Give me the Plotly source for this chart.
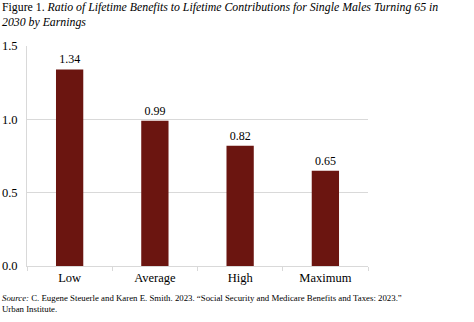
import plotly.graph_objects as go

categories = ["Low", "Average", "High", "Maximum"]
ratios = [1.34, 0.99, 0.82, 0.65]
y_ticks = [0.0, 0.5, 1.0, 1.5]

title_text = ("Figure 1. <i>Ratio of Lifetime Benefits to Lifetime Contributions for Single Males Turning 65 in"
              "<br>2030 by Earnings</i>")
source_text = ("<i>Source:</i> C. Eugene Steuerle and Karen E. Smith. 2023. \u201cSocial Security and Medicare Benefits and Taxes: 2023.\u201d"
               "<br>Urban Institute.")

W, H = 474, 322
L, R, T, B = 27, 106, 46, 56
pw, ph = W - L - R, H - T - B

font = "Liberation Serif, Times New Roman, serif"

fig = go.Figure(go.Bar(
    x=categories, y=ratios,
    marker=dict(color="#6B1510", line=dict(width=0)),
    text=[f"{v:.2f}" for v in ratios],
    textposition="outside",
    textfont=dict(family=font, size=12, color="#000"),
    cliponaxis=False,
))

fig.update_layout(
    template="none",
    width=W, height=H,
    margin=dict(l=L, r=R, t=T, b=B, autoexpand=False),
    paper_bgcolor="white", plot_bgcolor="white",
    bargap=0.68,
    showlegend=False,
    font=dict(family=font, size=12, color="#000"),
    xaxis=dict(automargin=False, showgrid=False, showline=True, linecolor="#d9d9d9", linewidth=1,
               ticks="outside", tickson="boundaries", ticklen=4, tickcolor="#d9d9d9",
               tickfont=dict(family=font, size=12.5, color="#000")),
    yaxis=dict(automargin=False, range=[0, 1.5], tickvals=y_ticks, ticktext=[f"{v:.1f}" for v in y_ticks],
               showgrid=True, gridcolor="#d9d9d9", gridwidth=1,
               showline=True, linecolor="#d9d9d9", linewidth=1,
               zeroline=False, ticks="", ticklabelstandoff=6,
               tickfont=dict(family=font, size=12.5, color="#000")),
    annotations=[
        dict(text=title_text, xref="paper", yref="paper",
             x=-L / pw, y=(H - B) / ph, xanchor="left", yanchor="top",
             yshift=2,
             align="left", showarrow=False,
             font=dict(family=font, size=11.8, color="#000")),
        dict(text=source_text, xref="paper", yref="paper",
             x=-L / pw, y=(H - B - 291) / ph, xanchor="left", yanchor="top",
             align="left", showarrow=False,
             font=dict(family=font, size=8.8, color="#000")),
    ],
)

fig.write_html("out.html")
